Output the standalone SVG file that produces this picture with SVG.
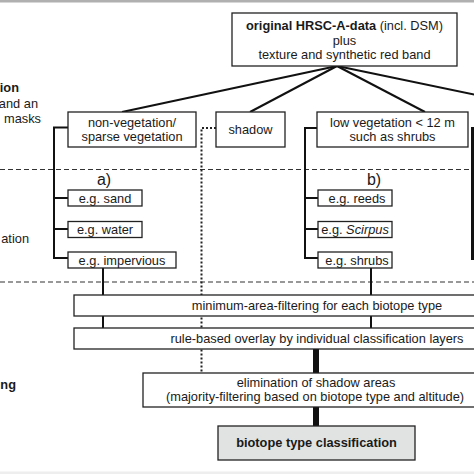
<svg xmlns="http://www.w3.org/2000/svg" width="474" height="474" viewBox="0 0 474 474">
<style>
text{font-family:"Liberation Sans",Arial,sans-serif;font-size:12.8px;fill:#1a1a1a}
.b{font-weight:bold}
.m{text-anchor:middle}
.e{text-anchor:end}
.box{fill:#fff;stroke:#222;stroke-width:1.3}
.ln{stroke:#111;stroke-width:2;fill:none}
.dash{stroke:#333;stroke-width:1.2;stroke-dasharray:5 3;fill:none}
.dot{stroke:#222;stroke-width:2;stroke-dasharray:2 2;fill:none}
.thick{stroke:#111;stroke-width:6;fill:none}
</style>
<rect x="0" y="0" width="474" height="474" fill="#fff"/>
<rect x="0" y="0" width="474" height="2.5" fill="#b0b0b0"/>
<rect x="0" y="471.5" width="474" height="2.5" fill="#eeeeee"/>

<g id="side-labels">
<text class="b e" x="19" y="92">ion</text>
<text class="e" x="38" y="108">and an</text>
<text class="e" x="41" y="123">masks</text>
<text class="e" x="29" y="243">ation</text>
<text class="b e" x="16" y="389">ng</text>
</g>

<g id="connectors">
<line class="dash" x1="0" y1="169.5" x2="474" y2="169.5"/>
<line class="dash" x1="0" y1="282" x2="474" y2="282"/>
<line class="ln" x1="337" y1="66" x2="122" y2="112"/>
<line class="ln" x1="337" y1="66" x2="250" y2="112"/>
<line class="ln" x1="337" y1="66" x2="425" y2="112"/>
<line class="ln" x1="337" y1="66" x2="500" y2="100"/>
<polyline class="dot" points="216,128 201.5,128 201.5,373"/>
<polyline class="ln" points="68,127.5 54,127.5 54,258 68,258"/>
<line class="ln" x1="54" y1="198" x2="68" y2="198"/>
<line class="ln" x1="54" y1="229" x2="68" y2="229"/>
<polyline class="ln" points="317,128 305,128 305,258 318,258"/>
<line class="ln" x1="305" y1="198" x2="318" y2="198"/>
<line class="ln" x1="305" y1="229" x2="318" y2="229"/>
<line class="ln" x1="472.5" y1="127" x2="472.5" y2="260" style="stroke-width:3"/>
<line class="ln" x1="103" y1="268" x2="103" y2="328"/>
<line class="ln" x1="371" y1="268" x2="371" y2="328"/>
<line class="thick" x1="316" y1="349" x2="316" y2="373"/>
<line class="thick" x1="316" y1="407" x2="316" y2="426"/>
</g>

<g id="n-source">
<rect class="box" x="232" y="13" width="225" height="53"/>
<text class="m" x="344.5" y="30"><tspan class="b">original HRSC-A-data</tspan> (incl. DSM)</text>
<text class="m" x="344.5" y="45">plus</text>
<text class="m" x="344.5" y="59">texture and synthetic red band</text>
</g>

<g id="n-nonveg">
<rect class="box" x="68" y="112" width="128" height="35"/>
<text class="m" x="132" y="127">non-vegetation/</text>
<text class="m" x="132" y="141">sparse vegetation</text>
</g>

<g id="n-shadow">
<rect class="box" x="216" y="112" width="69" height="35"/>
<text class="m" x="250.5" y="134">shadow</text>
</g>

<g id="n-lowveg">
<rect class="box" x="317" y="112" width="151" height="35"/>
<text class="m" x="392.5" y="127">low vegetation &lt; 12 m</text>
<text class="m" x="392.5" y="141">such as shrubs</text>
</g>

<g id="label-a"><text class="m" x="104" y="185" style="font-size:16px">a)</text></g>
<g id="label-b"><text class="m" x="374" y="185" style="font-size:16px">b)</text></g>

<g id="n-sand">
<rect class="box" x="68" y="190" width="74" height="16"/>
<text class="m" x="105" y="202.5">e.g. sand</text>
</g>
<g id="n-water">
<rect class="box" x="68" y="221.5" width="74" height="16"/>
<text class="m" x="105" y="234">e.g. water</text>
</g>
<g id="n-impervious">
<rect class="box" x="68" y="252" width="108" height="16"/>
<text class="m" x="122" y="264.5">e.g. impervious</text>
</g>
<g id="n-reeds">
<rect class="box" x="318" y="190" width="74" height="16"/>
<text class="m" x="357" y="202.5">e.g. reeds</text>
</g>
<g id="n-scirpus">
<rect class="box" x="318" y="221.5" width="74" height="16"/>
<text class="m" x="355" y="234">e.g. <tspan font-style="italic">Scirpus</tspan></text>
</g>
<g id="n-shrubs">
<rect class="box" x="318" y="252" width="74" height="16"/>
<text class="m" x="357" y="264.5">e.g. shrubs</text>
</g>

<g id="n-minarea">
<rect class="box" x="74" y="295" width="410" height="21"/>
<text class="m" x="317" y="310">minimum-area-filtering for each biotope type</text>
</g>
<g id="n-overlay">
<rect class="box" x="74" y="328" width="410" height="21"/>
<text class="m" x="317" y="343">rule-based overlay by individual classification layers</text>
</g>
<g id="n-elimination">
<rect class="box" x="143" y="373" width="341" height="34"/>
<text class="m" x="316" y="386.5">elimination of shadow areas</text>
<text class="m" x="315" y="401">(majority-filtering based on biotope type and altitude)</text>
</g>
<g id="n-result">
<rect class="box" x="218" y="426" width="197" height="34" style="fill:#e1e3e3"/>
<text class="b m" x="316.5" y="447">biotope type classification</text>
</g>
</svg>
